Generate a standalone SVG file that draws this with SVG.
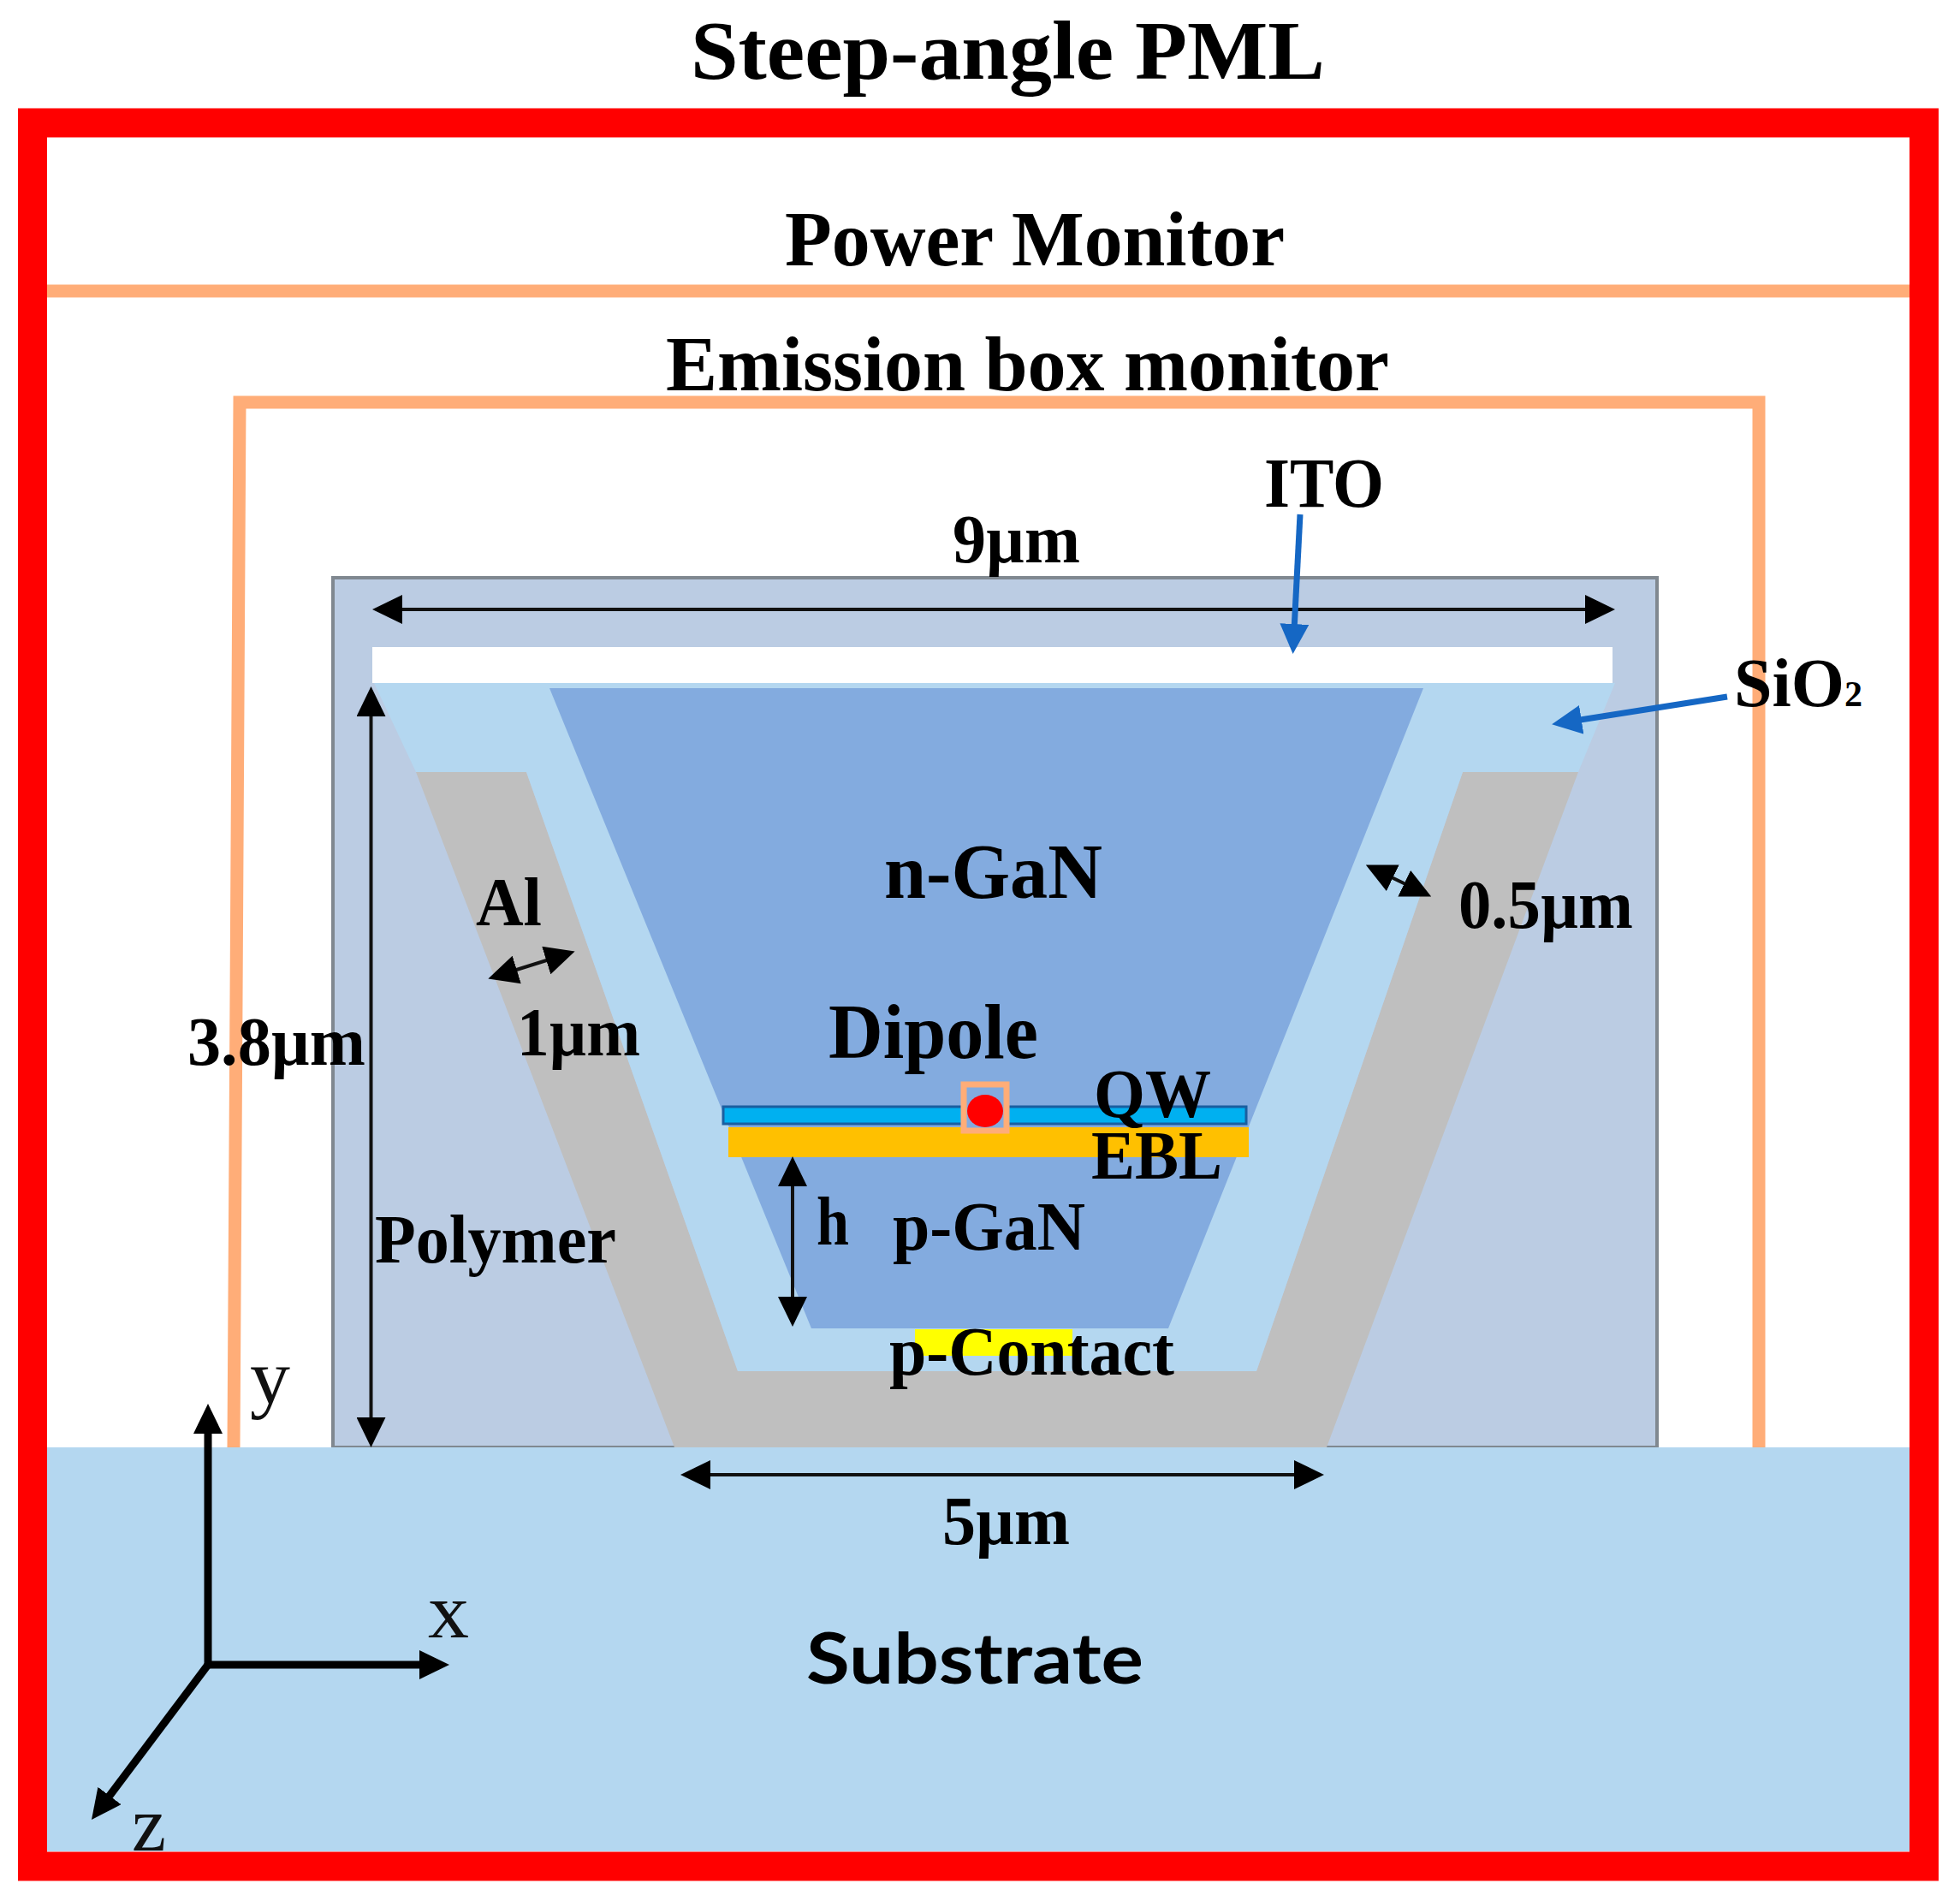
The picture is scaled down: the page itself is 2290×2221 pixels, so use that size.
<svg xmlns="http://www.w3.org/2000/svg" width="2290" height="2221" viewBox="0 0 2290 2221">
<style>
text{font-family:"Liberation Serif","Times New Roman",serif;font-weight:bold;fill:#000}
.t{font-size:80px}
.h{font-size:92px}
.ax{font-weight:normal;font-size:92px;fill:#111}
.sub{font-family:Lato,"Liberation Sans",sans-serif;font-size:82px}
.dim{stroke:#111;stroke-width:4;fill:none}
.blue{stroke:#1567C4;stroke-width:7;fill:none}
.axis{stroke:#000;stroke-width:9;fill:none}
.mon{fill:none;stroke:#FFAD78;stroke-width:15}
</style>
<defs>
<marker id="a" markerUnits="userSpaceOnUse" viewBox="0 0 35 34" markerWidth="35" markerHeight="34" refX="27" refY="17" orient="auto-start-reverse"><path d="M0 0L35 17L0 34Z" fill="#000"/></marker>
<marker id="b" markerUnits="userSpaceOnUse" viewBox="0 0 35 34" markerWidth="35" markerHeight="34" refX="27" refY="17" orient="auto"><path d="M0 0L35 17L0 34Z" fill="#1567C4"/></marker>
<marker id="c" markerUnits="userSpaceOnUse" viewBox="0 0 35 34" markerWidth="35" markerHeight="34" refX="25" refY="17" orient="auto"><path d="M0 0L35 17L0 34Z" fill="#000"/></marker>
</defs>
<rect width="2290" height="2221" fill="#fff"/>
<g id="monitors">
<path class="mon" d="M55 340H2232"/>
<path class="mon" d="M273 1691L280 470H2055V1691"/>
</g>
<g id="polymer"><rect x="389" y="675" width="1547" height="1016" fill="#BBCCE3" stroke="#808890" stroke-width="4"/></g>
<g id="substrate"><rect x="55" y="1691" width="2177" height="472" fill="#B4D7F0"/></g>
<g id="al"><polygon points="486,902 615,902 862,1602 1468,1602 1709,902 1844,902 1550,1691 788,1691" fill="#BFBFBF"/></g>
<g id="sio2"><polygon points="437,798 1887,798 1844,902 1709,902 1468,1602 862,1602 615,902 486,902" fill="#B4D7F0"/></g>
<g id="ngan"><polygon points="642,804 1663,804 1365,1552 948,1552" fill="#83ABDF"/></g>
<g id="ito"><rect x="435" y="756" width="1449" height="42" fill="#fff"/></g>
<g id="qw"><rect x="845" y="1293" width="611" height="20" fill="#00B0F0" stroke="#1A5FA0" stroke-width="3"/></g>
<g id="ebl"><rect x="851" y="1317" width="608" height="35" fill="#FFC000"/></g>
<g id="contact"><rect x="1069" y="1553" width="184" height="31" fill="#FFFF00"/></g>
<g id="dipole">
<rect x="1126" y="1267" width="50" height="54" fill="#83ABDF" stroke="#FFAD78" stroke-width="7"/>
<ellipse cx="1151" cy="1298" rx="21" ry="19" fill="#FF0000"/>
</g>
<g id="frame"><rect x="38" y="143.5" width="2210" height="2037" fill="none" stroke="#FF0000" stroke-width="34"/></g>
<g id="connectors">
<line class="dim" x1="443" y1="712" x2="1879" y2="712" marker-start="url(#a)" marker-end="url(#a)"/>
<line class="dim" x1="433.5" y1="810" x2="433.5" y2="1683" marker-start="url(#a)" marker-end="url(#a)"/>
<line class="dim" x1="926" y1="1359" x2="926" y2="1542" marker-start="url(#a)" marker-end="url(#a)"/>
<line class="dim" x1="803" y1="1723" x2="1539" y2="1723" marker-start="url(#a)" marker-end="url(#a)"/>
<line class="dim" x1="578" y1="1141" x2="664" y2="1114" marker-start="url(#a)" marker-end="url(#a)"/>
<line class="dim" x1="1603" y1="1014" x2="1665" y2="1044" marker-start="url(#a)" marker-end="url(#a)"/>
<line class="blue" x1="1519" y1="601" x2="1511" y2="756" marker-end="url(#b)"/>
<line class="blue" x1="2018" y1="814" x2="1821" y2="845" marker-end="url(#b)"/>
<line class="axis" x1="243" y1="1949" x2="243" y2="1650" marker-end="url(#c)"/>
<line class="axis" x1="239" y1="1945" x2="515" y2="1945" marker-end="url(#c)"/>
<line class="axis" x1="243" y1="1945" x2="113" y2="2118" stroke-width="8" marker-end="url(#c)"/>
</g>
<g id="labels">
<text class="h" x="807" y="92" font-size="98" style="font-size:98px" textLength="741" lengthAdjust="spacingAndGlyphs">Steep-angle PML</text>
<text class="h" x="917" y="310" textLength="584" lengthAdjust="spacingAndGlyphs">Power Monitor</text>
<text class="h" x="778" y="456" textLength="845" lengthAdjust="spacingAndGlyphs">Emission box monitor</text>
<text class="t" x="1477" y="592" style="font-size:82px" textLength="140" lengthAdjust="spacingAndGlyphs">ITO</text>
<text class="t" x="1113" y="657" textLength="149" lengthAdjust="spacingAndGlyphs">9µm</text>
<text class="t" x="2026" y="825">SiO<tspan font-size="42">2</tspan></text>
<text class="h" x="1033" y="1049" textLength="255" lengthAdjust="spacingAndGlyphs">n-GaN</text>
<text class="t" x="556" y="1081" textLength="77" lengthAdjust="spacingAndGlyphs">Al</text>
<text class="t" x="604" y="1233" textLength="144" lengthAdjust="spacingAndGlyphs">1µm</text>
<text class="t" x="219" y="1244" textLength="208" lengthAdjust="spacingAndGlyphs">3.8µm</text>
<text class="t" x="1704" y="1084" textLength="204" lengthAdjust="spacingAndGlyphs">0.5µm</text>
<text class="h" x="968" y="1236" textLength="245" lengthAdjust="spacingAndGlyphs">Dipole</text>
<text class="t" x="1278" y="1305" textLength="137" lengthAdjust="spacingAndGlyphs">QW</text>
<text class="t" x="1275" y="1377" textLength="153" lengthAdjust="spacingAndGlyphs">EBL</text>
<text class="t" x="954" y="1454" textLength="38" lengthAdjust="spacingAndGlyphs">h</text>
<text class="t" x="1043" y="1460" textLength="225" lengthAdjust="spacingAndGlyphs">p-GaN</text>
<text class="t" x="1039" y="1606" textLength="333" lengthAdjust="spacingAndGlyphs">p-Contact</text>
<text class="t" x="438" y="1475" textLength="282" lengthAdjust="spacingAndGlyphs">Polymer</text>
<text class="t" x="1101" y="1804" textLength="149" lengthAdjust="spacingAndGlyphs">5µm</text>
<text class="sub" x="942" y="1967" font-weight="bold" textLength="394" lengthAdjust="spacingAndGlyphs">Substrate</text>
<text class="ax" x="500" y="1913" textLength="48" lengthAdjust="spacingAndGlyphs">x</text>
<text class="ax" x="292" y="1640" textLength="47" lengthAdjust="spacingAndGlyphs">y</text>
<text class="ax" x="154" y="2162" textLength="40" lengthAdjust="spacingAndGlyphs">z</text>
</g>
</svg>
